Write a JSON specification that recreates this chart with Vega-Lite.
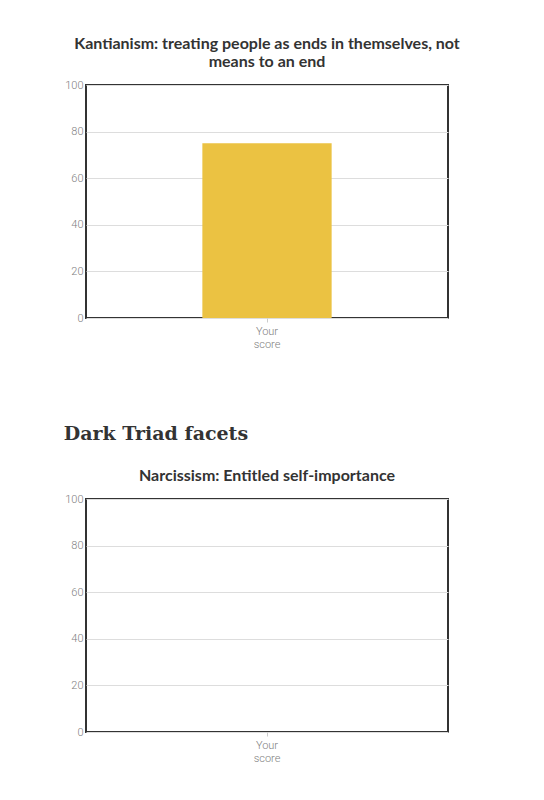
{
  "$schema": "https://vega.github.io/schema/vega-lite/v6.json",
  "padding": {"left": 63, "top": 35, "right": 5, "bottom": 5},
  "background": "white",
  "config": {
    "view": {"stroke": "#333333", "strokeWidth": 2},
    "title": {"font": "Lato", "fontWeight": "bold", "fontSize": 16, "color": "#333333", "lineHeight": 18, "offset": 9},
    "axis": {"labelFont": "Roboto", "labelFontWeight": 300, "labelFontSize": 11, "labelColor": "#808080", "gridColor": "#dddddd", "title": null},
    "concat": {"spacing": 75}
  },
  "datasets": {
    "kant": [{"label": "Your score", "score": 75}],
    "narc": [{"label": "Your score", "score": 0}]
  },
  "vconcat": [
    {
      "title": {"text": ["Kantianism: treating people as ends in themselves, not", "means to an end"]},
      "width": 362,
      "height": 233,
      "data": {"name": "kant"},
      "mark": {"type": "bar", "color": "#ebc242"},
      "encoding": {
        "x": {"field": "label", "type": "nominal", "scale": {"paddingInner": 0, "paddingOuter": 0.9},
          "axis": {"labelAngle": 0, "domain": false, "tickColor": "#cccccc", "tickSize": 4, "labelPadding": 3, "labelExpr": "split(datum.label, ' ')", "labelLineHeight": 13}},
        "y": {"field": "score", "type": "quantitative", "scale": {"domain": [0, 100]},
          "axis": {"values": [0, 20, 40, 60, 80, 100], "domain": false, "ticks": false, "labelPadding": 3}}
      }
    },
    {
      "title": {"text": "Dark Triad facets", "anchor": "start", "font": "DejaVu Serif", "fontSize": 19, "fontWeight": "bold", "offset": 23},
      "vconcat": [
        {
          "title": {"text": "Narcissism: Entitled self-importance"},
          "width": 362,
          "height": 233,
          "data": {"name": "narc"},
          "mark": {"type": "bar", "color": "#ebc242"},
          "encoding": {
            "x": {"field": "label", "type": "nominal", "scale": {"paddingInner": 0, "paddingOuter": 0.9},
              "axis": {"labelAngle": 0, "domain": false, "tickColor": "#cccccc", "tickSize": 4, "labelPadding": 3, "labelExpr": "split(datum.label, ' ')", "labelLineHeight": 13}},
            "y": {"field": "score", "type": "quantitative", "scale": {"domain": [0, 100]},
              "axis": {"values": [0, 20, 40, 60, 80, 100], "domain": false, "ticks": false, "labelPadding": 3}}
          }
        }
      ]
    }
  ]
}
